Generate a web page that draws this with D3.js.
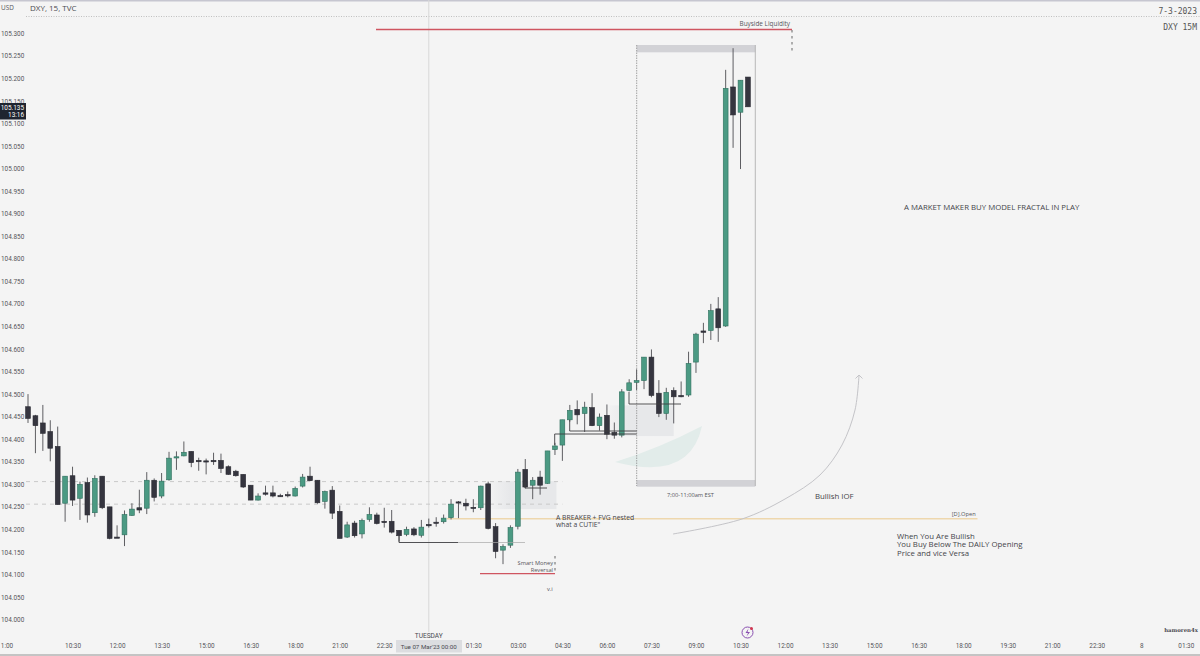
<!DOCTYPE html>
<html>
<head>
<meta charset="utf-8">
<script src="https://cdnjs.cloudflare.com/ajax/libs/d3/7.8.5/d3.min.js"></script>
<style>
  html, body { margin: 0; padding: 0; background: #f4f4f4; overflow: hidden; }
  svg { display: block; }
  text { font-family: "Open Sans", sans-serif; fill: #4a4a50; }
  .axis text { font-family: Roboto, sans-serif; font-size: 6.4px; fill: #55555a; }
  .mono { font-family: "DejaVu Sans Mono", monospace; font-size: 8px; fill: #555; }
  .note { font-size: 7.8px; fill: #44444a; }
  .small { font-size: 5.7px; fill: #55555a; }
</style>
</head>
<body>
<script>
// DXY 15m, left to right
const opens = [104.472,104.452,104.436,104.417,104.384,104.258,104.319,104.269,104.304,104.237,104.318,104.250,104.183,104.188,104.231,104.248,104.247,104.309,104.274,104.310,104.360,104.363,104.373,104.353,104.352,104.353,104.353,104.339,104.329,104.322,104.298,104.265,104.281,104.281,104.275,104.277,104.274,104.296,104.318,104.309,104.262,104.287,104.240,104.183,104.214,104.190,104.222,104.232,104.218,104.218,104.198,104.189,104.201,104.187,104.211,104.216,104.217,104.226,104.261,104.258,104.249,104.248,104.301,104.206,104.154,104.165,104.207,104.333,104.298,104.316,104.302,104.377,104.387,104.443,104.466,104.457,104.470,104.430,104.453,104.415,104.409,104.508,104.526,104.530,104.582,104.502,104.457,104.508,104.497,104.498,104.571,104.640,104.641,104.689,104.651,105.181,105.125,105.203];
const highs = [104.500,104.454,104.476,104.442,104.428,104.318,104.339,104.306,104.315,104.320,104.318,104.250,104.209,104.242,104.258,104.288,104.327,104.313,104.325,104.372,104.373,104.395,104.373,104.359,104.357,104.370,104.368,104.342,104.332,104.322,104.298,104.280,104.297,104.297,104.279,104.284,104.295,104.323,104.339,104.309,104.286,104.296,104.253,104.217,104.219,104.224,104.249,104.237,104.248,104.243,104.198,104.206,104.205,104.221,104.224,104.227,104.233,104.267,104.263,104.268,104.267,104.297,104.306,104.214,104.167,104.209,104.334,104.356,104.316,104.330,104.374,104.392,104.443,104.476,104.486,104.483,104.502,104.457,104.477,104.437,104.511,104.533,104.555,104.582,104.599,104.531,104.514,104.515,104.528,104.594,104.636,104.658,104.700,104.715,105.219,105.267,105.196,105.203];
const lows = [104.436,104.369,104.374,104.351,104.255,104.217,104.252,104.221,104.215,104.228,104.245,104.178,104.181,104.163,104.230,104.236,104.234,104.262,104.269,104.308,104.332,104.362,104.338,104.330,104.322,104.343,104.325,104.321,104.317,104.292,104.265,104.264,104.275,104.271,104.272,104.271,104.273,104.293,104.307,104.257,104.246,104.223,104.180,104.181,104.182,104.180,104.217,104.211,104.204,104.191,104.173,104.185,104.185,104.182,104.204,104.206,104.213,104.222,104.225,104.242,104.238,104.243,104.200,104.136,104.123,104.159,104.200,104.291,104.267,104.277,104.301,104.365,104.352,104.439,104.433,104.416,104.429,104.419,104.400,104.401,104.404,104.506,104.509,104.511,104.493,104.449,104.443,104.435,104.493,104.494,104.547,104.613,104.620,104.616,104.649,105.046,104.999,105.137];
const closes = [104.446,104.430,104.413,104.380,104.255,104.318,104.265,104.300,104.232,104.313,104.248,104.180,104.181,104.233,104.245,104.243,104.309,104.271,104.307,104.358,104.361,104.371,104.348,104.350,104.350,104.350,104.335,104.322,104.319,104.294,104.265,104.274,104.278,104.274,104.273,104.276,104.291,104.316,104.308,104.259,104.284,104.236,104.180,104.210,104.186,104.220,104.233,104.213,104.215,104.194,104.186,104.200,104.188,104.205,104.208,104.214,104.225,104.256,104.259,104.252,104.247,104.296,104.202,104.151,104.162,104.204,104.327,104.294,104.309,104.298,104.374,104.385,104.443,104.464,104.454,104.471,104.430,104.449,104.411,104.409,104.505,104.525,104.530,104.582,104.497,104.457,104.504,104.494,104.494,104.568,104.633,104.637,104.685,104.647,105.178,105.119,105.196,105.137];

const priceTicks = [105.3,105.25,105.2,105.15,105.1,105.05,105,104.95,104.9,104.85,104.8,104.75,104.7,104.65,104.6,104.55,104.5,104.45,104.4,104.35,104.3,104.25,104.2,104.15,104.1,104.05,104];
const timeTicks = [-2.9,6,12,18,24,30,36,42,48,60,66,72,78,84,90,96,102,108,114,120,126,132,138,144,150,156];
const timeLabels = ['1:00','10:30','12:00','13:30','15:00','16:30','18:00','21:00','22:30','01:30','03:00','04:30','06:00','07:30','09:00','10:30','12:00','13:30','15:00','16:30','18:00','19:30','21:00','22:30','8','01:30'];

const width = 1200, height = 656;

const x = d3.scaleLinear().domain([0, 96]).range([28, 740.5]);
const y = d3.scaleLinear().domain([105.3, 104]).range([33.3, 619.6]);

const svg = d3.select('body').append('svg')
  .attr('width', width)
  .attr('height', height);

const defs = svg.append('defs');
const fade = defs.append('linearGradient').attr('id', 'fade');
fade.append('stop').attr('offset', '0%').attr('stop-color', '#e7e8ea').attr('stop-opacity', 0.15);
fade.append('stop').attr('offset', '30%').attr('stop-color', '#e7e8ea').attr('stop-opacity', 1);
fade.append('stop').attr('offset', '100%').attr('stop-color', '#e7e8ea').attr('stop-opacity', 1);

// frame
svg.append('rect').attr('width', width).attr('height', 1.5).attr('fill', '#c6c6d0');
svg.append('rect').attr('y', 654).attr('width', width).attr('height', 2).attr('fill', '#c4c4c4');
svg.append('line').attr('x1', 26).attr('x2', width).attr('y1', 16.5).attr('y2', 16.5)
  .attr('stroke', '#a8a8a8').attr('stroke-width', 0.7).attr('stroke-dasharray', '1 1.5');

// crosshair
svg.append('line').attr('x1', x(54)).attr('x2', x(54)).attr('y1', 0).attr('y2', 632)
  .attr('stroke', '#d9d9d9');

// FVG zones
function zone(i0, i1, p0, p1) {
  svg.append('rect')
    .attr('x', x(i0)).attr('width', x(i1) - x(i0))
    .attr('y', y(p0)).attr('height', y(p1) - y(p0))
    .attr('fill', 'url(#fade)');
}
zone(62.2, 71.2, 104.307, 104.245);
zone(78.2, 87, 104.475, 104.407);

// leaf behind the session box
const leaf = d3.path();
leaf.moveTo(615, 462);
leaf.quadraticCurveTo(660, 448, 702, 426);
leaf.quadraticCurveTo(690, 482, 615, 462);
svg.append('path').attr('d', leaf.toString()).attr('fill', '#e2ecea');

// dashed levels
[104.306, 104.256].forEach((p) => {
  svg.append('line').attr('x1', 26).attr('x2', x(72)).attr('y1', y(p)).attr('y2', y(p))
    .attr('stroke', '#c9c9c9').attr('stroke-dasharray', '4 4');
});

// session box 7:00-11:00
const boxL = 636.7, boxR = 755.3;
svg.append('rect').attr('x', boxL).attr('width', boxR - boxL).attr('y', 45).attr('height', 7.3).attr('fill', '#d2d2d6');
svg.append('rect').attr('x', boxL).attr('width', boxR - boxL).attr('y', 480).attr('height', 6.7).attr('fill', '#d2d2d6');
svg.append('line').attr('x1', boxL).attr('x2', boxL).attr('y1', 45).attr('y2', 486)
  .attr('stroke', '#8c8c8c').attr('stroke-width', 0.8).attr('stroke-dasharray', '1.5 1');
svg.append('line').attr('x1', boxR).attr('x2', boxR).attr('y1', 45).attr('y2', 486)
  .attr('stroke', '#a8a8a8').attr('stroke-width', 0.8);
svg.append('text').attr('class', 'small').attr('x', 690.5).attr('y', 497).attr('text-anchor', 'middle').text('7;00-11;00am EST');

// daily open
svg.append('line').attr('x1', 447).attr('x2', 977.5).attr('y1', 518.7).attr('y2', 518.7)
  .attr('stroke', '#eed7ad').attr('stroke-width', 1.5);

// liquidity levels
svg.append('line').attr('x1', 376).attr('x2', 792).attr('y1', 29.5).attr('y2', 29.5)
  .attr('stroke', '#cf5560').attr('stroke-width', 1.3);
svg.append('line').attr('x1', 792).attr('x2', 792).attr('y1', 30).attr('y2', 52)
  .attr('stroke', '#666').attr('stroke-dasharray', '2.5 3.5');
svg.append('line').attr('x1', 480).attr('x2', 555).attr('y1', 573.7).attr('y2', 573.7)
  .attr('stroke', '#cf5560').attr('stroke-width', 1.3);
svg.append('line').attr('x1', 555).attr('x2', 555).attr('y1', 556).attr('y2', 573)
  .attr('stroke', '#666').attr('stroke-dasharray', '2.5 3.5');

// candles
const candles = d3.range(closes.length);
svg.append('g').selectAll('line').data(candles).enter().append('line')
  .attr('x1', (i) => x(i)).attr('x2', (i) => x(i))
  .attr('y1', (i) => y(highs[i])).attr('y2', (i) => y(lows[i]))
  .attr('stroke', '#5e5e62').attr('stroke-width', 1);

svg.append('g').selectAll('rect').data(candles).enter().append('rect')
  .attr('x', (i) => x(i) - 2.4)
  .attr('width', 4.8)
  .attr('y', (i) => y(Math.max(opens[i], closes[i])))
  .attr('height', (i) => Math.max(1.2, Math.abs(y(opens[i]) - y(closes[i]))))
  .attr('fill', (i) => closes[i] > opens[i] ? '#4b9a83' : '#35353f')
  .attr('stroke', (i) => closes[i] > opens[i] ? '#2f6f5e' : '#2a2a32')
  .attr('stroke-width', 0.6);

// breaker / order block lines
function bracket(x0, x1, yTop, yBot) {
  svg.append('path')
    .attr('d', 'M' + x0 + ',' + yTop + 'V' + yBot + 'H' + x1)
    .attr('fill', 'none').attr('stroke', '#3e3e42').attr('stroke-width', 0.9);
}
bracket(399, 458, 536, 542.5);
svg.append('line').attr('x1', 458).attr('x2', 525).attr('y1', 542.5).attr('y2', 542.5)
  .attr('stroke', '#a8a8a8').attr('stroke-width', 0.7);
bracket(525, 547, 482, 488);
bracket(554.7, 636.7, 445, 434);
bracket(569.7, 636.7, 420, 431);
bracket(629, 681, 392, 404);

// curved arrow
const arrowPoints = [[673, 534], [742, 519], [785, 499], [820, 475], [842, 445], [855, 410], [859, 375]];
svg.append('path')
  .attr('d', d3.line().curve(d3.curveCatmullRom)(arrowPoints))
  .attr('fill', 'none').attr('stroke', '#c4c4c8').attr('stroke-width', 1);
svg.append('path').attr('d', 'M855.5,378.5L859,375L862.5,378.5')
  .attr('fill', 'none').attr('stroke', '#c4c4c8').attr('stroke-width', 1);

// notes
svg.append('text').attr('class', 'small').attr('x', 790).attr('y', 26).attr('text-anchor', 'end').style('font-size', '6.4px').text('Buyside Liquidity');
svg.append('text').attr('class', 'small').attr('x', 975.7).attr('y', 516).attr('text-anchor', 'end').text('[D].Open');
svg.append('text').attr('class', 'small').attr('x', 553).attr('y', 565).attr('text-anchor', 'end').text('Smart Money');
svg.append('text').attr('class', 'small').attr('x', 553).attr('y', 571.5).attr('text-anchor', 'end').text('Reversal');
svg.append('text').attr('class', 'small').attr('x', 547).attr('y', 591).text('v.i');
svg.append('text').attr('class', 'note').attr('x', 556).attr('y', 519.5).style('font-size', '6.8px').text('A BREAKER + FVG nested');
svg.append('text').attr('class', 'note').attr('x', 556).attr('y', 527).style('font-size', '6.8px').text('what a CUTIE"');
svg.append('text').attr('class', 'note').attr('x', 815).attr('y', 499).text('Bullish IOF');
svg.append('text').attr('class', 'note').attr('x', 904).attr('y', 210).text('A MARKET MAKER BUY MODEL FRACTAL IN PLAY');
['When You Are Bullish', 'You Buy Below The DAILY Opening', 'Price and vice Versa'].forEach((t, i) => {
  svg.append('text').attr('class', 'note').attr('x', 897).attr('y', 539 + i * 8.4).text(t);
});

// header
svg.append('text').attr('class', 'small').attr('x', 1).attr('y', 10).style('font-size', '6.4px').text('USD');
svg.append('text').attr('x', 30).attr('y', 11).style('font-size', '8px').text('DXY, 15, TVC');
svg.append('text').attr('class', 'mono').attr('x', 1197).attr('y', 14).attr('text-anchor', 'end').text('7-3-2023');
svg.append('text').attr('class', 'mono').attr('x', 1197).attr('y', 29.5).attr('text-anchor', 'end').text('DXY  15M');

// axes
const yAxis = d3.axisRight(y)
  .tickValues(priceTicks)
  .tickSize(0)
  .tickPadding(1)
  .tickFormat(d3.format('.3f'));
svg.append('g').attr('class', 'axis').call(yAxis).call((g) => g.select('.domain').remove());

svg.append('rect').attr('x', 396).attr('y', 640).attr('width', 66).attr('height', 12.5).attr('fill', '#dcdde0');
const xAxis = d3.axisBottom(x)
  .tickValues(timeTicks)
  .tickSize(0)
  .tickPadding(0)
  .tickFormat((d, i) => timeLabels[i]);
svg.append('g').attr('class', 'axis').attr('transform', 'translate(0, 643.5)')
  .call(xAxis).call((g) => g.select('.domain').remove());
svg.append('text').attr('x', x(54)).attr('y', 649).attr('text-anchor', 'middle')
  .style('font-family', 'Roboto, sans-serif').style('font-size', '6.2px').text("Tue 07 Mar'23   00:00");
svg.append('text').attr('x', x(54)).attr('y', 637.5).attr('text-anchor', 'middle')
  .style('font-family', 'Roboto, sans-serif').style('font-size', '6.6px').text('TUESDAY');

// last price tag
svg.append('rect').attr('y', 103).attr('width', 26).attr('height', 16.5).attr('fill', '#1f2530');
svg.append('text').attr('x', 24).attr('y', 109.5).attr('text-anchor', 'end')
  .style('font-family', 'Roboto, sans-serif').style('font-size', '6.4px').style('fill', '#fff').text('105.135');
svg.append('text').attr('x', 24).attr('y', 117).attr('text-anchor', 'end')
  .style('font-family', 'Roboto, sans-serif').style('font-size', '6.4px').style('fill', '#fff').text('13:16');

// replay badge
svg.append('circle').attr('cx', 747.5).attr('cy', 632.5).attr('r', 5.5)
  .attr('fill', 'none').attr('stroke', '#8a4fb0').attr('stroke-width', 1);
svg.append('path').attr('d', 'M748.5,628.5L745.5,633H748L746.5,636.5L750,632H747.5Z').attr('fill', '#8a4fb0');
svg.append('circle').attr('cx', 751.5).attr('cy', 628.5).attr('r', 1.5).attr('fill', '#d1384e');

// signature
svg.append('text').attr('x', 1198).attr('y', 631.5).attr('text-anchor', 'end')
  .style('font-family', '"DejaVu Serif", serif').style('font-size', '5.4px').style('font-weight', 'bold').text('hamoren4x');
</script>
</body>
</html>
